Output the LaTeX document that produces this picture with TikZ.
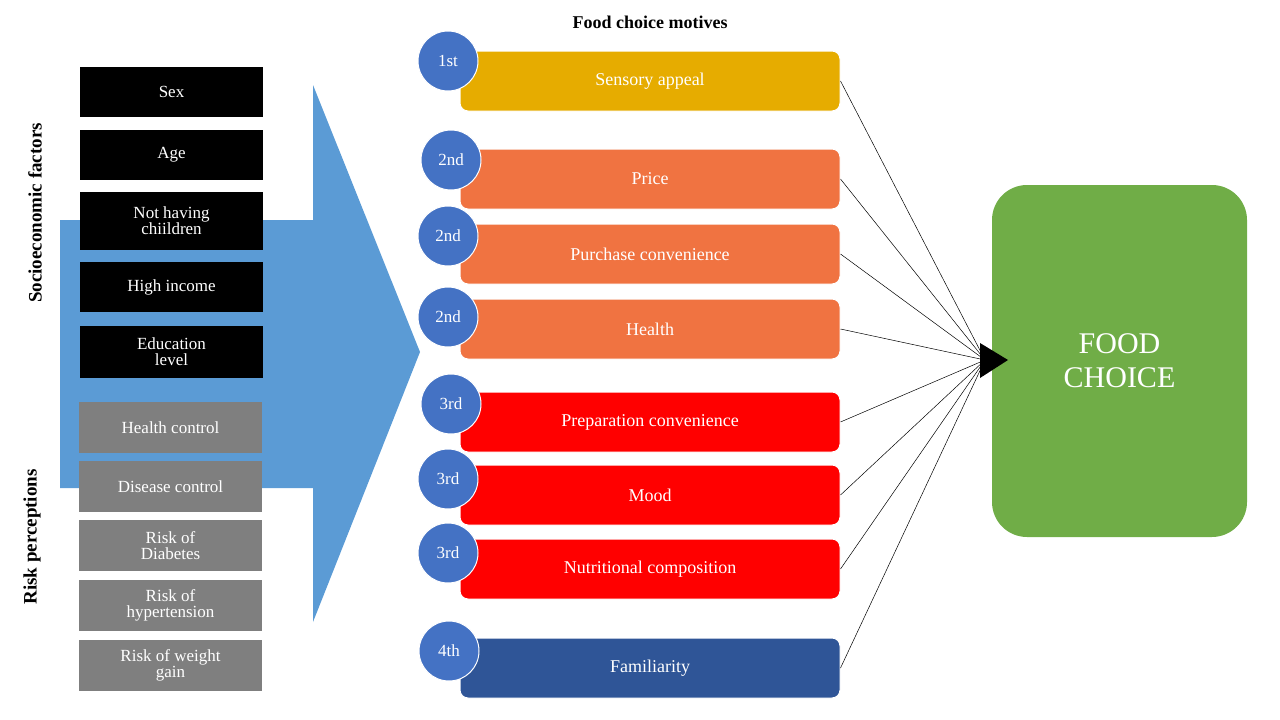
\documentclass[tikz,border=0pt]{standalone}
\usepackage{fontspec}
\setmainfont{Liberation Serif}
\begin{document}
\begin{tikzpicture}[x=1pt,y=-1pt,
 lbox/.style={fill=#1,text=white,font=\fontsize{17}{16}\selectfont,align=center,inner sep=0pt},
 mbox/.style={fill=#1,draw=white,line width=1pt,rounded corners=8pt,text=white,font=\fontsize{18}{20}\selectfont,minimum width=380pt,minimum height=60pt,inner sep=0pt},
 rank/.style={circle,fill=rankblue,draw=white,line width=1pt,minimum size=60pt,inner sep=0pt,text=white,font=\fontsize{17}{18}\selectfont},
 conn/.style={line width=0.5pt}]
\definecolor{rankblue}{HTML}{4472C4}
\definecolor{arrowblue}{HTML}{5B9BD5}
\definecolor{gold}{HTML}{E6AC00}
\definecolor{orng}{HTML}{F07341}
\definecolor{navy}{HTML}{2F5597}
\definecolor{grn}{HTML}{70AD47}
\definecolor{gry}{HTML}{7F7F7F}
\useasboundingbox (0,0) rectangle (1280,720);
\fill[arrowblue] (60,220) -- (313,220) -- (313,85) -- (420,352) -- (313,622) -- (313,488) -- (60,488) -- cycle;
\node[rotate=90,font=\bfseries\fontsize{19}{20}\selectfont] (soc) at (35,213) {Socioeconomic factors};
\node[rotate=90,font=\bfseries\fontsize{19}{20}\selectfont] (risk) at (32,537) {Risk perceptions};
\foreach \n/\y/\h/\t in {s1/92/50/Sex,s2/155/50/Age,s3/221/58/{Not having\\chiildren},s4/287/50/High income,s5/352/52/{Education\\level}}
 \node[lbox=black,minimum width=183pt,minimum height=\h pt] (\n) at (171.5,\y) {\t};
\foreach \n/\y/\t in {r1/427.5/Health control,r2/486.5/Disease control,r3/545.5/{Risk of\\Diabetes},r4/605.5/{Risk of\\hypertension},r5/665/{Risk of weight\\gain}}
 \node[lbox=gry,minimum width=183pt,minimum height=51pt] (\n) at (170.5,\y) {\t};
\node[font=\bfseries\fontsize{18}{20}\selectfont] (title) at (650,22) {Food choice motives};
\foreach \n/\y/\c/\t in {m1/81/gold/Sensory appeal,m2/179/orng/Price,m3/254/orng/Purchase convenience,m4/329/orng/Health,m5/422/red/Preparation convenience,m6/495/red/Mood,m7/569/red/Nutritional composition,m8/668/navy/Familiarity}
 \node[mbox=\c] (\n) at (650,\y) {\t};
\foreach \n/\x/\y/\t in {c1/448/61/1st,c2/451/160/2nd,c3/448/236/2nd,c4/448/317/2nd,c5/451/404/3rd,c6/448/479/3rd,c7/448/553/3rd,c8/449/651/4th}
 \node[rank] (\n) at (\x,\y) {\t};
\node[fill=grn,rounded corners=35pt,minimum width=255pt,minimum height=352pt,text=white,align=center,font=\fontsize{30}{34}\selectfont] (fc) at (1119.5,361) {FOOD\\CHOICE};
\coordinate (hub) at (985,360);
\foreach \n in {m1,m2,m3,m4,m5,m6,m7,m8} \draw[conn] (\n.east) -- (hub);
\fill[black] (1008,360) -- (980,343) -- (980,378) -- cycle;
\end{tikzpicture}
\end{document}
